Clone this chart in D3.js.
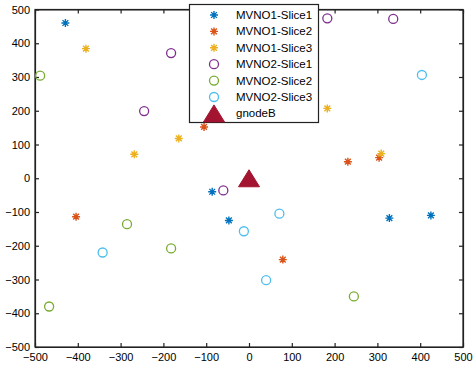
<!DOCTYPE html>
<html>
<head>
<meta charset="utf-8">
<script src="https://cdn.jsdelivr.net/npm/d3@7"></script>
<style>
  body { margin: 0; background: #fff; }
  text { font-family: "Liberation Sans", Arial, sans-serif; }
</style>
</head>
<body>
<div id="canvas"></div>
<script>
const width = 474;
const height = 366;

// series points [x, y]
var mvno1Slice1 = [[-429, 460], [-86, -40], [-47, -125], [328, -118], [425, -110]];
var mvno1Slice2 = [[-404, -114], [-105, 152], [231, 49], [304, 61], [79, -241]];
var mvno1Slice3 = [[-381, 384], [-268, 71], [-164, 118], [183, 207], [309, 73]];
var mvno2Slice1 = [[-245, 199], [-182, 371], [183, 474], [337, 472], [-60, -36]];
var mvno2Slice2 = [[-488, 304], [-285, -136], [-467, -380], [-182, -208], [245, -350]];
var mvno2Slice3 = [[404, 306], [-342, -220], [71, -105], [-12, -157], [40, -302]];
var gnodeB = [[0, 0]];

var seriesNames = ["MVNO1-Slice1", "MVNO1-Slice2", "MVNO1-Slice3", "MVNO2-Slice1", "MVNO2-Slice2", "MVNO2-Slice3", "gnodeB"];
var seriesColors = ["#0072BD", "#D95319", "#EDB120", "#7E2F8E", "#77AC30", "#4DBEEE", "#A2142F"];
var seriesShapes = ["star", "star", "star", "circle", "circle", "circle", "triangle"];
var seriesData = [mvno1Slice1, mvno1Slice2, mvno1Slice3, mvno2Slice1, mvno2Slice2, mvno2Slice3, gnodeB];

var tickValues = [-500, -400, -300, -200, -100, 0, 100, 200, 300, 400, 500];

const margin = { left: 35, right: 11, top: 9.5, bottom: 19 };

const svg = d3.select("#canvas")
    .append("svg")
    .attr("width", width)
    .attr("height", height);

var xScale = d3.scaleLinear()
    .domain([-500, 500])
    .range([margin.left, width - margin.right]);

var yScale = d3.scaleLinear()
    .domain([-500, 500])
    .range([height - margin.bottom, margin.top]);

// axes with inward ticks
var tickLen = 4;
svg.append("g")
    .attr("transform", `translate(0,${yScale(-500)})`)
    .call(d3.axisBottom(xScale).tickValues(tickValues).tickSizeInner(-tickLen).tickSizeOuter(0).tickPadding(6))
    .call(g => g.selectAll("text").attr("font-size", "11px").attr("fill", "#000"));

svg.append("g")
    .attr("transform", `translate(${xScale(-500)},0)`)
    .call(d3.axisLeft(yScale).tickValues(tickValues).tickSizeInner(-tickLen).tickSizeOuter(0).tickPadding(5))
    .call(g => g.selectAll("text").attr("font-size", "11px").attr("fill", "#000"));

svg.append("g")
    .attr("transform", `translate(0,${yScale(500)})`)
    .call(d3.axisTop(xScale).tickValues(tickValues).tickSizeInner(-tickLen).tickSizeOuter(0).tickFormat(""));

svg.append("g")
    .attr("transform", `translate(${xScale(500)},0)`)
    .call(d3.axisRight(yScale).tickValues(tickValues).tickSizeInner(-tickLen).tickSizeOuter(0).tickFormat(""));

svg.selectAll(".domain, .tick line").attr("stroke", "#222").attr("stroke-width", 1.2);

svg.append("rect")
    .attr("x", xScale(-500))
    .attr("y", yScale(500))
    .attr("width", xScale(500) - xScale(-500))
    .attr("height", yScale(-500) - yScale(500))
    .attr("fill", "none")
    .attr("stroke", "#222")
    .attr("stroke-width", 1.2);

function starPath(r) {
    var d = r * 0.72;
    return `M${-r},0L${r},0M0,${-r}L0,${r}M${-d},${-d}L${d},${d}M${-d},${d}L${d},${-d}`;
}

function drawMarker(g, shape, color, big) {
    if (shape === "star") {
        g.append("path").attr("d", starPath(4)).attr("stroke", color).attr("stroke-width", 1.4).attr("fill", "none");
    } else if (shape === "circle") {
        g.append("circle").attr("r", 4.5).attr("stroke", color).attr("stroke-width", 1.3).attr("fill", "none");
    } else {
        var w = 10.5, h = 17;
        g.append("path")
            .attr("d", `M0,${-h / 2}L${w},${h / 2}L${-w},${h / 2}Z`)
            .attr("fill", color)
            .attr("stroke", color)
            .attr("stroke-width", 1);
    }
}

for (let i = 0; i < seriesData.length; i++) {
    seriesData[i].forEach(p => {
        var g = svg.append("g")
            .attr("transform", `translate(${xScale(p[0])},${yScale(p[1])})`);
        drawMarker(g, seriesShapes[i], seriesColors[i]);
    });
}

// legend
var legend = svg.append("g");
legend.append("rect")
    .attr("x", 189.5)
    .attr("y", 4.5)
    .attr("width", 129)
    .attr("height", 118)
    .attr("fill", "#fff")
    .attr("stroke", "#222")
    .attr("stroke-width", 1.2);

for (let i = 0; i < seriesNames.length; i++) {
    var cy = 15 + i * 16.4;
    var g = legend.append("g").attr("transform", `translate(214,${cy})`);
    drawMarker(g, seriesShapes[i], seriesColors[i]);
    legend.append("text")
        .attr("x", 236)
        .attr("y", cy + 4)
        .attr("font-size", "11.5px")
        .attr("fill", "#000")
        .text(seriesNames[i]);
}
</script>
</body>
</html>
